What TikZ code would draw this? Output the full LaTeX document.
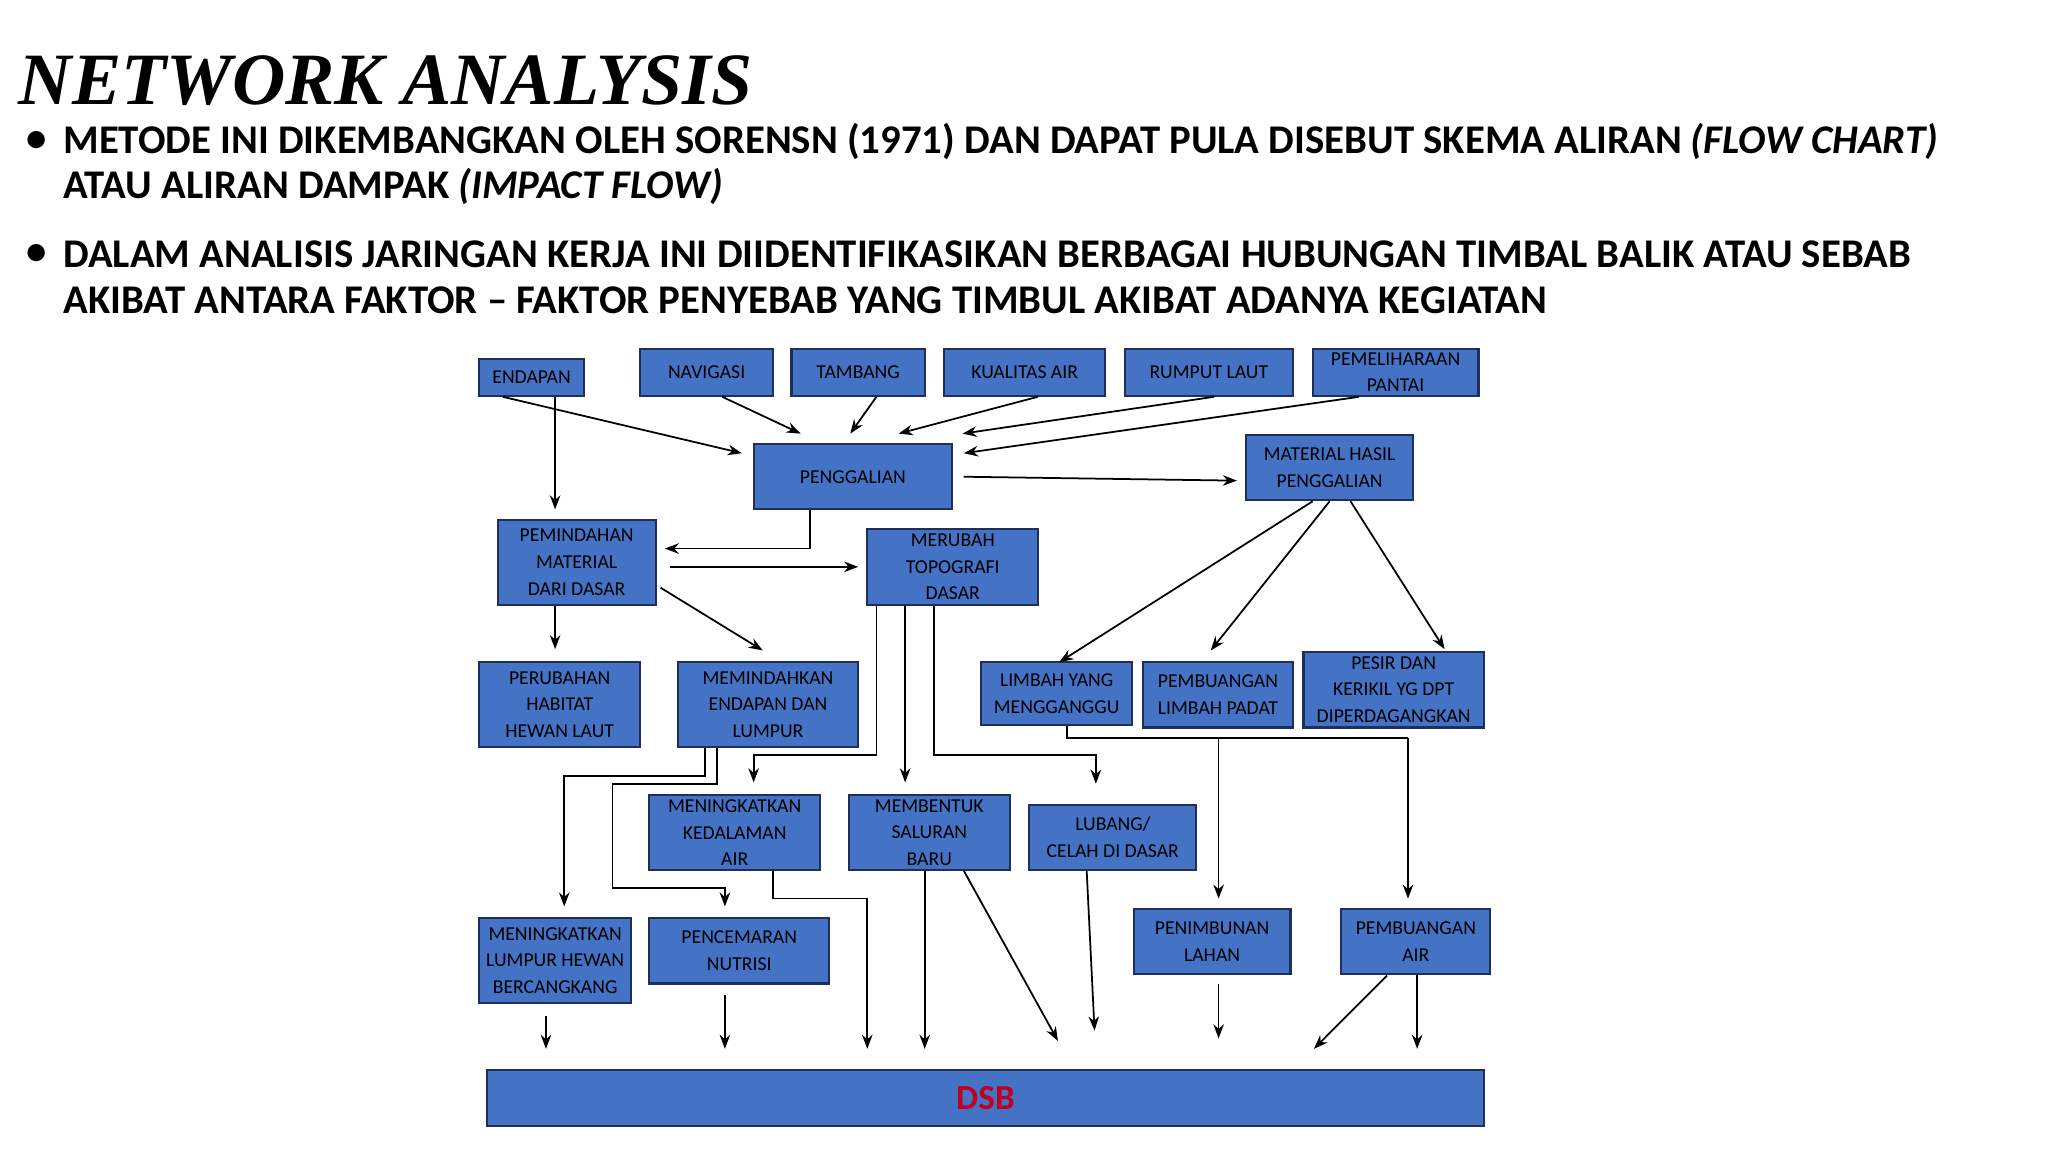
\documentclass[tikz,border=0pt]{standalone}
\usepackage{fontspec}
\setmainfont{Carlito}
\newfontfamily\titlefont{Liberation Serif}
\usetikzlibrary{arrows.meta}
\definecolor{boxblue}{HTML}{4472C4}
\definecolor{boxedge}{HTML}{1F2F5A}
\definecolor{dsbred}{HTML}{C00020}
\begin{document}
\begin{tikzpicture}[x=0.013061cm,y=-0.013061cm,
  bx/.style={draw=boxedge,line width=0.6pt,fill=boxblue,text=black,align=center,font=\fontsize{5.6}{7.6}\selectfont},
  ar/.style={-{Stealth[length=4pt,width=3pt]},line width=0.5pt},
  ln/.style={line width=0.5pt},
  btxt/.style={anchor=west,font=\fontsize{11.6}{13}\bfseries\selectfont,inner sep=0pt}]
\useasboundingbox (0,0) rectangle (1568,882);
\newcommand\bxx[6]{\node[bx,minimum width={(#4-#2)*0.013061cm},minimum height={(#5-#3)*0.013061cm},inner sep=0pt] (#1) at ({(#2+#4)/2},{(#3+#5)/2}) {#6};}
% title and bullets
\node[anchor=base west,inner sep=0pt,font=\titlefont\fontsize{21}{24}\bfseries\itshape\selectfont] (title) at (14,80) {NETWORK ANALYSIS};
\node[btxt] (b1) at (20,108) {•};
\node[btxt] (t1) at (48,108) {METODE INI DIKEMBANGKAN OLEH SORENSN (1971) DAN DAPAT PULA DISEBUT SKEMA ALIRAN \textit{(FLOW CHART)}};
\node[btxt] (t2) at (48,143) {ATAU ALIRAN DAMPAK \textit{(IMPACT FLOW)}};
\node[btxt] (b2) at (20,195) {•};
\node[btxt] (t3) at (48,195) {DALAM ANALISIS JARINGAN KERJA INI DIIDENTIFIKASIKAN BERBAGAI HUBUNGAN TIMBAL BALIK ATAU SEBAB};
\node[btxt] (t4) at (48,230) {AKIBAT ANTARA FAKTOR – FAKTOR PENYEBAB YANG TIMBUL AKIBAT ADANYA KEGIATAN};
% boxes
\bxx{end}{367}{275}{447}{303}{ENDAPAN}
\bxx{nav}{490}{267}{592}{303}{NAVIGASI}
\bxx{tam}{606}{267}{708}{303}{TAMBANG}
\bxx{kua}{723}{267}{846}{303}{KUALITAS AIR}
\bxx{rum}{861}{267}{990}{303}{RUMPUT LAUT}
\bxx{pem}{1005}{267}{1132}{303}{PEMELIHARAAN\\PANTAI}
\bxx{pen}{577}{340}{729}{390}{PENGGALIAN}
\bxx{mat}{954}{333}{1082}{383}{MATERIAL HASIL\\PENGGALIAN}
\bxx{pmd}{381}{398}{502}{463}{PEMINDAHAN\\MATERIAL\\DARI DASAR}
\bxx{mer}{664}{405}{795}{463}{MERUBAH\\TOPOGRAFI\\DASAR}
\bxx{per}{367}{507}{490}{572}{PERUBAHAN\\HABITAT\\HEWAN LAUT}
\bxx{mmd}{519}{507}{657}{572}{MEMINDAHKAN\\ENDAPAN DAN\\LUMPUR}
\bxx{lim}{751}{507}{867}{555}{LIMBAH YANG\\MENGGANGGU}
\bxx{pbl}{875}{507}{990}{557}{PEMBUANGAN\\LIMBAH PADAT}
\bxx{pes}{998}{499}{1136}{557}{PESIR DAN\\KERIKIL YG DPT\\DIPERDAGANGKAN}
\bxx{mkd}{497}{609}{628}{666}{MENINGKATKAN\\KEDALAMAN\\AIR}
\bxx{mbs}{650}{609}{773}{666}{MEMBENTUK\\SALURAN\\BARU}
\bxx{lub}{788}{616}{916}{666}{LUBANG/\\CELAH DI DASAR}
\bxx{mlh}{367}{703}{483}{768}{MENINGKATKAN\\LUMPUR HEWAN\\BERCANGKANG}
\bxx{pnc}{497}{703}{635}{753}{PENCEMARAN\\NUTRISI}
\bxx{pnb}{868}{696}{988}{746}{PENIMBUNAN\\LAHAN}
\bxx{pba}{1027}{696}{1141}{746}{PEMBUANGAN\\AIR}
\node[draw=boxedge,line width=0.6pt,fill=boxblue,minimum width={763*0.013061cm},minimum height={43*0.013061cm},inner sep=0pt,text=dsbred,font=\fontsize{10}{12}\bfseries\selectfont] (dsb) at (754.5,840.5) {DSB};
% free-end coordinates
\coordinate (e1) at (425,390); \coordinate (e2) at (568,347);
\coordinate (e3) at (613,332); \coordinate (e4) at (651,332);
\coordinate (e5) at (688,332); \coordinate (e6) at (737,332);
\coordinate (e7) at (738,347); \coordinate (e8) at (947,368);
\coordinate (e9) at (509,420); \coordinate (e10) at (657,434);
\coordinate (e11) at (584,498); \coordinate (e12) at (425,497);
\coordinate (e13) at (811,507); \coordinate (e14) at (927,498); \coordinate (e15) at (1106,497);
\coordinate (e16) at (933,688); \coordinate (e17) at (1078,688);
\coordinate (e18) at (577,599); \coordinate (e19) at (693,599); \coordinate (e20) at (839,600);
\coordinate (e21) at (432,694); \coordinate (e22) at (555,694);
\coordinate (e23) at (664,803); \coordinate (e24) at (708,803); \coordinate (e25) at (810,797);
\coordinate (e26) at (838,789); \coordinate (e27) at (418,803); \coordinate (e28) at (555,803);
\coordinate (e29) at (933,795); \coordinate (e30) at (1006,803); \coordinate (e31) at (1085,803);
\coordinate (s27) at (418,778); \coordinate (s28) at (555,762); \coordinate (s29) at (933,753);
% connectors
\draw[ar] (end.south-|e1) -- (e1);
\draw[ar] ([xshift={-22*0.013061cm}]end.south) -- (e2);
\draw[ar] ([xshift={12*0.013061cm}]nav.south) -- (e3);
\draw[ar] ([xshift={14*0.013061cm}]tam.south) -- (e4);
\draw[ar] ([xshift={10*0.013061cm}]kua.south) -- (e5);
\draw[ar] ([xshift={4*0.013061cm}]rum.south) -- (e6);
\draw[ar] ([xshift={-28*0.013061cm}]pem.south) -- (e7);
\draw[ar] ([xshift={8*0.013061cm}]pen.east) -- (e8);
\draw[ar] ([xshift={-33*0.013061cm}]pen.south) |- (e9);
\draw[ar] ([xshift={10*0.013061cm}]pmd.east|-e10) -- (e10);
\draw[ar] ([xshift={3*0.013061cm}]pmd.east|-0,450) -- (e11);
\draw[ar] (pmd.south-|e12) -- (e12);
\draw[ar] ([xshift={-13*0.013061cm}]mat.south) -- (e13);
\draw[ar] (mat.south) -- (e14);
\draw[ar] ([xshift={16*0.013061cm}]mat.south) -- (e15);
\draw[ln] (lim.south-|817,0) -- (817,565) -- (1078,565);
\draw[ar] (933,565) -- (e16);
\draw[ar] (1078,565) -- (e17);
\draw[ar] (mer.south-|671,0) -- (671,578) -| (e18);
\draw[ar] (mer.south-|e19) -- (e19);
\draw[ar] (mer.south-|715,0) -- (715,578) -| (e20);
\draw[ar] (mmd.south-|540,0) -- (540,594) -| (e21);
\draw[ar] (mmd.south-|549,0) -- (549,600) -- (469,600) -- (469,680) -| (e22);
\draw[ar] (mkd.south-|592,0) -- (592,688) -| (e23);
\draw[ar] (mbs.south-|e24) -- (e24);
\draw[ar] (mbs.south-|738,0) -- (e25);
\draw[ar] (lub.south-|832,0) -- (e26);
\draw[ar] (s27) -- (e27);
\draw[ar] (s28) -- (e28);
\draw[ar] (s29) -- (e29);
\draw[ar] (pba.south-|1062,0) -- (e30);
\draw[ar] (pba.south-|e31) -- (e31);
\end{tikzpicture}
\end{document}
